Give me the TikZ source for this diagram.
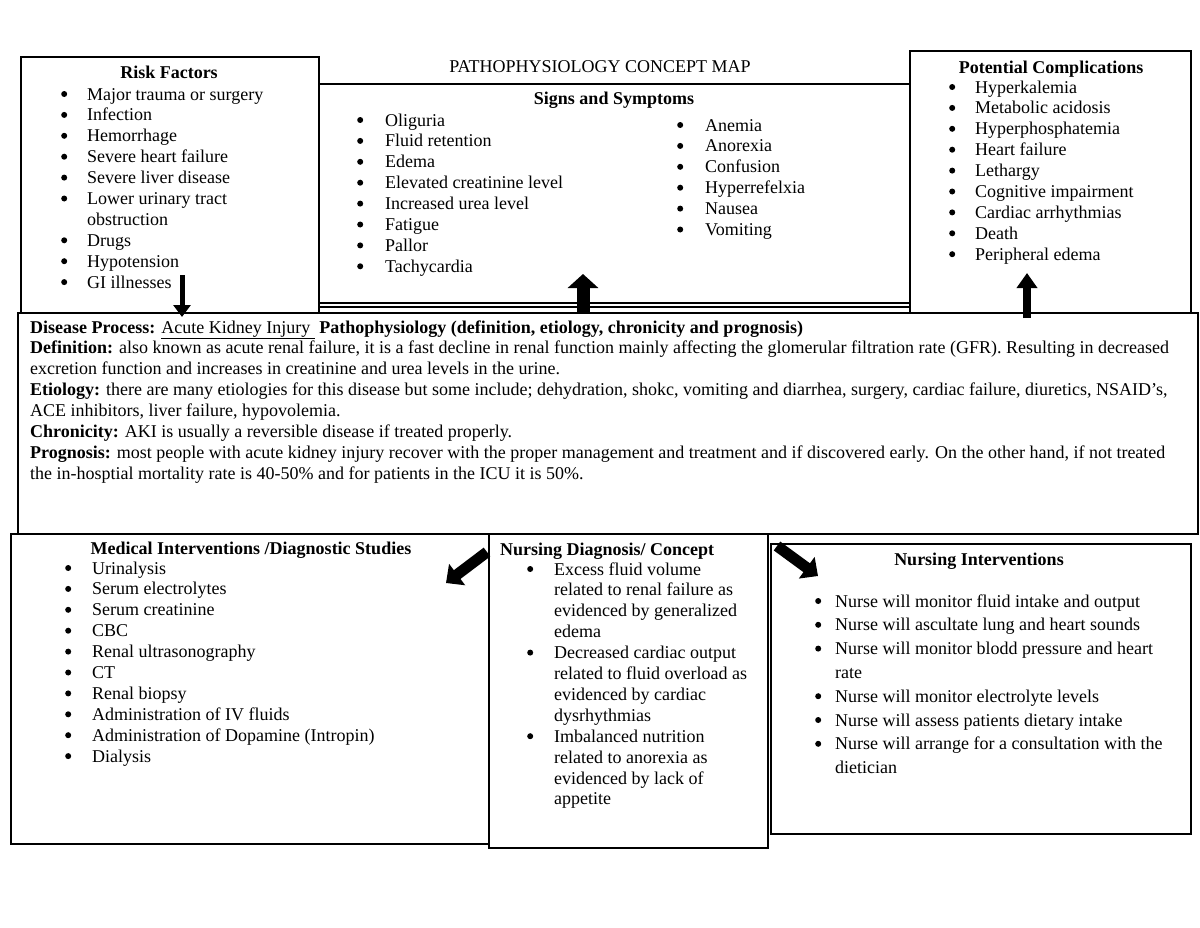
\documentclass[tikz,border=0pt]{standalone}
\usepackage{fontspec}
\setmainfont{Liberation Serif}
\usetikzlibrary{arrows.meta}
\newcommand\fsA{\fontsize{18}{20.9}\selectfont}
\newcommand\fsB{\fontsize{18}{23.8}\selectfont}
\newlength\bw
\newcommand\bl{\makebox[\bw][l]{\tikz[baseline=0pt]{\fill (3pt,6pt) circle[radius=3pt];}}}
\newcommand\ind{\hspace*{\bw}}
\begin{document}
\begin{tikzpicture}[x=1pt,y=-1pt,
  box/.style={draw, line width=1.6pt, fill=white, anchor=north west, inner sep=0pt},
  ttl/.style={font=\fsA\bfseries, inner sep=0pt, anchor=base},
  lst/.style={anchor=base west, inner sep=0pt, font=\fsA},
  barrow/.style n args={3}{line width=#1, -{Triangle[width=#2, length=#3]}}
]
\useasboundingbox (0,0) rectangle (1200,927);
\fill[white] (0,0) rectangle (1200,927);

% boxes
\node[box, minimum width=298pt, minimum height=256pt] (rf) at (20,56) {};
\node[box, minimum width=591pt, minimum height=219pt] (ss) at (318,83) {};
\draw[line width=1.2pt] (318,307) -- (909,307);
\node[box, minimum width=281pt, minimum height=262pt] (pc) at (909,50) {};
\node[box, minimum width=1180pt, minimum height=221pt] (dp) at (17,312) {};
\node[box, minimum width=478pt, minimum height=310pt] (mi) at (10,533) {};
\node[box, minimum width=279pt, minimum height=314pt] (nd) at (488,533) {};
\node[box, minimum width=420pt, minimum height=290pt] (ni) at (770,543) {};

% titles
\node[inner sep=0pt, anchor=base, font=\fsA] (title) at (600,72) {PATHOPHYSIOLOGY CONCEPT MAP};
\node[ttl] (rft) at (169,78) {Risk Factors};
\node[ttl] (sst) at (614,104) {Signs and Symptoms};
\node[ttl] (pct) at (1051,73) {Potential Complications};
\node[ttl] (mit) at (251,554) {Medical Interventions /Diagnostic Studies};
\node[ttl, anchor=base west] (ndt) at (500,555) {Nursing Diagnosis/ Concept};
\node[ttl] (nit) at (979,565) {Nursing Interventions};

% lists
\node[lst] (rfl) at (61,100) {\setlength\bw{26pt}\begin{tabular}[t]{@{}l@{}}
\bl Major trauma or surgery\\
\bl Infection\\
\bl Hemorrhage\\
\bl Severe heart failure\\
\bl Severe liver disease\\
\bl Lower urinary tract\\
\ind obstruction\\
\bl Drugs\\
\bl Hypotension\\
\bl GI illnesses
\end{tabular}};

\node[lst] (ssl) at (357,126) {\setlength\bw{28pt}\begin{tabular}[t]{@{}l@{}}
\bl Oliguria\\
\bl Fluid retention\\
\bl Edema\\
\bl Elevated creatinine level\\
\bl Increased urea level\\
\bl Fatigue\\
\bl Pallor\\
\bl Tachycardia
\end{tabular}};

\node[lst] (ssr) at (677,131) {\setlength\bw{28pt}\begin{tabular}[t]{@{}l@{}}
\bl Anemia\\
\bl Anorexia\\
\bl Confusion\\
\bl Hyperrefelxia\\
\bl Nausea\\
\bl Vomiting
\end{tabular}};

\node[lst] (pcl) at (949,93) {\setlength\bw{26pt}\begin{tabular}[t]{@{}l@{}}
\bl Hyperkalemia\\
\bl Metabolic acidosis\\
\bl Hyperphosphatemia\\
\bl Heart failure\\
\bl Lethargy\\
\bl Cognitive impairment\\
\bl Cardiac arrhythmias\\
\bl Death\\
\bl Peripheral edema
\end{tabular}};

\node[lst] (dpl) at (30,333) {\begin{tabular}[t]{@{}l@{}}
\textbf{Disease Process:} \underline{Acute Kidney Injury\ } \textbf{Pathophysiology (definition, etiology, chronicity and prognosis)}\\
\textbf{Definition:} also known as acute renal failure, it is a fast decline in renal function mainly affecting the glomerular filtration rate (GFR). Resulting in decreased\\
excretion function and increases in creatinine and urea levels in the urine.\\
\textbf{Etiology:} there are many etiologies for this disease but some include; dehydration, shokc, vomiting and diarrhea, surgery, cardiac failure, diuretics, NSAID’s,\\
ACE inhibitors, liver failure, hypovolemia.\\
\textbf{Chronicity:} AKI is usually a reversible disease if treated properly.\\
\textbf{Prognosis:} most people with acute kidney injury recover with the proper management and treatment and if discovered early. On the other hand, if not treated\\
the in-hosptial mortality rate is 40-50\% and for patients in the ICU it is 50\%.
\end{tabular}};

\node[lst] (mil) at (65,574) {\setlength\bw{27pt}\begin{tabular}[t]{@{}l@{}}
\bl Urinalysis\\
\bl Serum electrolytes\\
\bl Serum creatinine\\
\bl CBC\\
\bl Renal ultrasonography\\
\bl CT\\
\bl Renal biopsy\\
\bl Administration of IV fluids\\
\bl Administration of Dopamine (Intropin)\\
\bl Dialysis
\end{tabular}};

\node[lst] (ndl) at (527,575) {\setlength\bw{27pt}\begin{tabular}[t]{@{}l@{}}
\bl Excess fluid volume\\
\ind related to renal failure as\\
\ind evidenced by generalized\\
\ind edema\\
\bl Decreased cardiac output\\
\ind related to fluid overload as\\
\ind evidenced by cardiac\\
\ind dysrhythmias\\
\bl Imbalanced nutrition\\
\ind related to anorexia as\\
\ind evidenced by lack of\\
\ind appetite
\end{tabular}};

\node[lst, font=\fsB] (nil) at (815,607) {\setlength\bw{20pt}\begin{tabular}[t]{@{}l@{}}
\bl Nurse will monitor fluid intake and output\\
\bl Nurse will ascultate lung and heart sounds\\
\bl Nurse will monitor blodd pressure and heart\\
\ind rate\\
\bl Nurse will monitor electrolyte levels\\
\bl Nurse will assess patients dietary intake\\
\bl Nurse will arrange for a consultation with the\\
\ind dietician
\end{tabular}};

% arrows
\coordinate (a1s) at (182,275); \coordinate (a1e) at (182,317);
\coordinate (a2s) at (583,312); \coordinate (a2e) at (583,274);
\coordinate (a3s) at (1027,318); \coordinate (a3e) at (1027,273);
\coordinate (a4s) at (487,552); \coordinate (a4e) at (446,583);
\coordinate (a5s) at (777,546); \coordinate (a5e) at (818,576);
\draw[barrow={5pt}{17pt}{12pt}] (a1s) -- (a1e);
\draw[barrow={13pt}{30pt}{14pt}] (a2s) -- (a2e);
\draw[barrow={8pt}{20pt}{15pt}] (a3s) -- (a3e);
\draw[barrow={11pt}{26pt}{14pt}] (a4s) -- (a4e);
\draw[barrow={11pt}{26pt}{14pt}] (a5s) -- (a5e);
\end{tikzpicture}
\end{document}
